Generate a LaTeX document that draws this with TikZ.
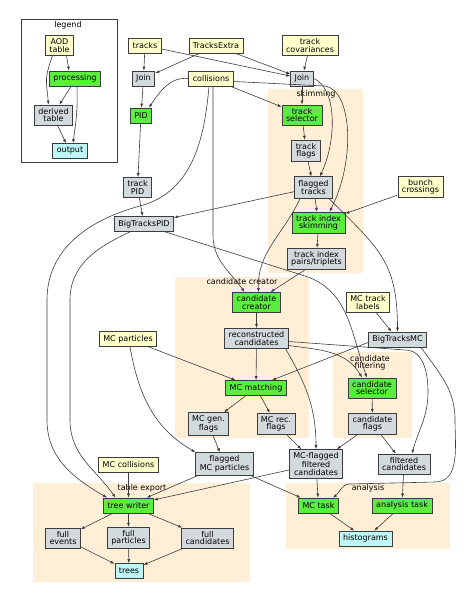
\documentclass[tikz,border=0pt]{standalone}
\usepackage{fontspec}
\setmainfont{DejaVu Sans}
\usepackage{xcolor}
\usetikzlibrary{arrows.meta}
\definecolor{tblfill}{RGB}{255,255,204}
\definecolor{procfill}{RGB}{92,238,62}
\definecolor{derfill}{RGB}{211,218,221}
\definecolor{outfill}{RGB}{190,246,246}
\definecolor{grpfill}{RGB}{255,239,214}
\definecolor{linegray}{RGB}{60,60,60}
\tikzset{
  box/.style={draw=linegray, line width=0.7pt, align=center, inner xsep=4pt, inner ysep=3.2pt, minimum height=15pt, font=\fontsize{8}{7.5}\selectfont},
  tbl/.style={box, fill=tblfill},
  proc/.style={box, fill=procfill},
  der/.style={box, fill=derfill},
  outp/.style={box, fill=outfill},
  grp/.style={fill=grpfill},
  grplabel/.style={font=\fontsize{8}{7.5}\selectfont, align=center, inner sep=0pt},
  edge/.style={draw=linegray, line width=0.6pt, -{Latex[length=4pt,width=3pt]}},
}
\begin{document}
\begin{tikzpicture}[x=1pt,y=1pt]
    \useasboundingbox (0,0) rectangle (474,-602);
    \fill[white] (0,0) rectangle (474,-602);

    \fill[grp] (268,-89) rectangle (363,-273);
    \fill[grp] (175,-277) rectangle (309,-438);
    \fill[grp] (333,-352) rectangle (412,-438);
    \fill[grp] (33,-483) rectangle (250,-582);
    \fill[grp] (286,-483) rectangle (450,-549);
    \node[grplabel] (gskim) at (316,-94) {skimming};
    \node[grplabel] (gcc) at (242,-282) {candidate creator};
    \node[grplabel] (gfilt) at (370,-363) {candidate\\filtering};
    \node[grplabel] (gexp) at (142,-488) {table export};
    \node[grplabel] (gana) at (368,-488) {analysis};

    \draw[linegray, line width=0.7pt] (21,-19) rectangle (117,-162);
    \node[grplabel] (glegend) at (68,-25) {legend};
    \node[tbl] (aod) at (59.5,-45.5) {AOD\\table};
    \node[proc] (lproc) at (75,-78.5) {processing};
    \node[der] (lder) at (53.5,-115) {derived\\table};
    \node[outp] (lout) at (70,-151) {output};

    \node[tbl] (tracks) at (145,-45.5) {tracks};
    \node[tbl] (tracksx) at (216,-46) {TracksExtra};
    \node[tbl] (trkcov) at (310,-45.5) {track\\covariances};
    \node[der] (joinpid) at (143.5,-78.5) {Join};
    \node[tbl] (coll) at (211,-78.5) {collisions};
    \node[der] (joinsel) at (302,-78.5) {Join};
    \node[proc] (pid) at (141,-115.5) {PID};
    \node[der] (trkpid) at (137.5,-187.5) {track\\PID};
    \node[proc] (trksel) at (302,-115) {track\\selector};
    \node[der] (trkflags) at (306,-151) {track\\flags};
    \node[der] (flagtrk) at (313.5,-187.5) {flagged\\tracks};
    \node[tbl] (bc) at (420.5,-187) {bunch\\crossings};
    \node[der] (btpid) at (144,-224) {BigTracksPID};
    \node[proc] (tisk) at (318.5,-223) {track index\\skimming};
    \node[der] (tipt) at (316.5,-259) {track index\\pairs/triplets};
    \node[proc] (cc) at (256.5,-302.5) {candidate\\creator};
    \node[tbl] (mclab) at (368,-302.5) {MC track\\labels};
    \node[der] (btmc) at (397.5,-339.5) {BigTracksMC};
    \node[der] (rc) at (256.5,-338.5) {reconstructed\\candidates};
    \node[tbl] (mcp) at (128,-339) {MC particles};
    \node[proc] (csel) at (372,-388) {candidate\\selector};
    \node[proc] (mcm) at (256,-388) {MC matching};
    \node[der] (mcgen) at (208.5,-424) {MC gen.\\flags};
    \node[der] (mcrec) at (276,-424) {MC rec.\\flags};
    \node[der] (cflags) at (372.5,-424) {candidate\\flags};
    \node[der] (fmcp) at (224.5,-464) {flagged\\MC particles};
    \node[der] (mcfc) at (316,-464) {MC-flagged\\filtered\\candidates};
    \node[der] (fc) at (404,-464) {filtered\\candidates};
    \node[tbl] (mccol) at (128.5,-464.5) {MC collisions};
    \node[proc] (tw) at (128.5,-505.5) {tree writer};
    \node[proc] (mct) at (318.5,-505.5) {MC task};
    \node[proc] (anatask) at (402,-505.5) {analysis task};
    \node[der] (fev) at (63,-538) {full\\events};
    \node[der] (fpart) at (128.5,-538) {full\\particles};
    \node[der] (fcand) at (207.5,-538) {full\\candidates};
    \node[outp] (hist) at (365.5,-538.5) {histograms};
    \node[outp] (trees) at (129,-571) {trees};

    \draw[edge] ([xshift=7pt]aod.south) -- ([xshift=-6pt]lproc.north);
    \draw[edge] ([xshift=-7pt]aod.south) to[out=-110,in=95,looseness=1.3] ([xshift=-5pt]lder.north);
    \draw[edge] ([xshift=-4pt]lproc.south) -- ([xshift=6pt]lder.north);
    \draw[edge] ([xshift=2pt]lproc.south) to[out=-88,in=82] ([xshift=3pt]lout.north);
    \draw[edge] ([xshift=4pt]lder.south) -- ([xshift=-4pt]lout.north);

    \draw[edge] (tracks) -- (joinpid);
    \draw[edge] (tracksx) -- (joinpid);
    \draw[edge] (tracks) -- (joinsel);
    \draw[edge] (tracksx) -- (joinsel);
    \draw[edge] (trkcov) -- (joinsel);
    \draw[edge] (joinpid) -- (pid);
    \draw[edge] (coll.west) to[out=175,in=55] (pid.45);
    \draw[edge] (pid) -- (trkpid);
    \draw[edge] (trkpid) -- (btpid);
    \draw[edge] (coll) -- (trksel);
    \draw[edge] (joinsel) -- (trksel);
    \draw[edge] (trksel) -- (trkflags);
    \draw[edge] (trkflags) -- (flagtrk);
    \draw[edge] (joinsel.east) .. controls (337,-88) and (337,-140) .. (flagtrk.60);
    \draw[edge] ([yshift=-3pt]coll.east) -- (325,-86) .. controls (352,-90) and (356,-160) .. ([xshift=11pt]tisk.north);
    \draw[edge] (flagtrk) -- (tisk);
    \draw[edge] (bc) -- (tisk);
    \draw[edge] (tisk) -- (tipt);
    \draw[edge] (flagtrk) -- (btpid);
    \draw[edge] ([xshift=6pt]flagtrk.south west) to[out=-115,in=92] ([xshift=2pt]cc.north);
    \draw[edge] ([xshift=2pt]coll.south) -- (213,-235) to[out=-90,in=125] ([xshift=-12pt]cc.north);
    \draw[edge] ([xshift=-12pt]tipt.south) -- ([xshift=14pt]cc.north);
    \draw[edge] ([xshift=-4pt]flagtrk.south east) to[out=-45,in=90,looseness=1.2] (btmc.north);
    \draw[edge] ([xshift=-9pt]btpid.south east) -- (305,-276) to[out=-18,in=110] ([xshift=-5pt]csel.north);
    \draw[edge] ([xshift=-2pt]coll.south) to[out=-95,in=15] (140,-206) to[out=195,in=90] (47,-300) -- (47,-420) to[out=-90,in=150] ([xshift=4pt]tw.north west);
    \draw[edge] ([xshift=-14pt]btpid.south) to[out=205,in=90] (70,-300) -- (70,-420) to[out=-90,in=125] ([xshift=-13pt]tw.north);

    \draw[edge] (cc) -- (rc);
    \draw[edge] (mclab) -- ([xshift=-6pt]btmc.north);
    \draw[edge] ([yshift=-3pt]btmc.west) -- ([xshift=16pt]mcm.north);
    \draw[edge] ([xshift=-6pt]btmc.south east) to[out=-55,in=90] (455,-420) to[out=-90,in=0] (435,-482) -- (350,-484) to[out=180,in=35] ([xshift=-6pt]mct.north east);
    \draw[edge] (rc) -- (mcm);
    \draw[edge] ([yshift=-7pt]rc.east) to[out=-8,in=120] ([xshift=-10pt]csel.north);
    \draw[edge] ([yshift=-3pt]rc.east) -- (405,-350) to[out=0,in=90] (428,-392) to[out=-90,in=75] ([xshift=8pt]fc.north);
    \draw[edge] ([xshift=-3pt]rc.south east) to[out=-60,in=90] (mcfc.north);
    \draw[edge] (mcp) -- (mcm);
    \draw[edge] ([xshift=2pt]mcp.south) to[out=-80,in=150] (fmcp.north west);
    \draw[edge] (mcm) -- (mcgen);
    \draw[edge] (mcm) -- (mcrec);
    \draw[edge] (mcgen) -- (fmcp);
    \draw[edge] (mcrec) -- (mcfc);
    \draw[edge] (csel) -- (cflags);
    \draw[edge] (cflags) -- (mcfc);
    \draw[edge] (cflags) -- (fc);

    \draw[edge] (fmcp) -- (tw);
    \draw[edge] (fmcp) -- (mct);
    \draw[edge] (mcfc) -- (tw);
    \draw[edge] (mcfc) -- (mct);
    \draw[edge] (fc) -- (anatask);
    \draw[edge] (mccol) -- (tw);
    \draw[edge] (tw) -- (fev);
    \draw[edge] (tw) -- (fpart);
    \draw[edge] (tw) -- (fcand);
    \draw[edge] (fev) -- (trees);
    \draw[edge] (fpart) -- (trees);
    \draw[edge] (fcand) -- (trees);
    \draw[edge] (mct) -- (hist);
    \draw[edge] (anatask) -- (hist);
\end{tikzpicture}
\end{document}
